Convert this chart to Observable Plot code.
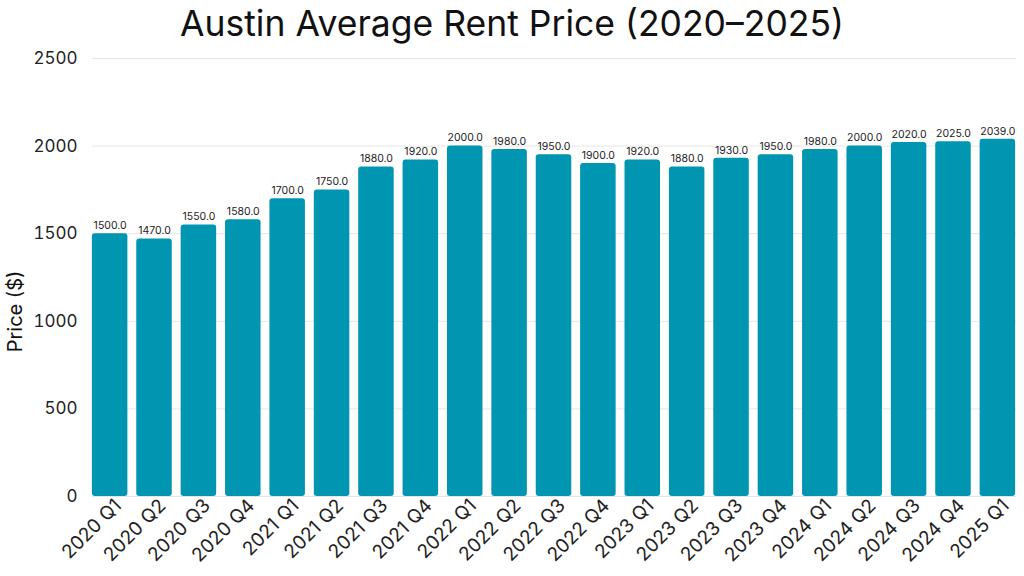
<!DOCTYPE html>
<html>
<head>
<meta charset="utf-8">
<script src="https://cdn.jsdelivr.net/npm/d3@7"></script>
<script src="https://cdn.jsdelivr.net/npm/@observablehq/plot@0.6"></script>
<style>
  html, body { margin: 0; padding: 0; background: #fff; }
  body { width: 1024px; height: 576px; overflow: hidden; font-family: Inter, "Open Sans", sans-serif; }
  #title { height: 45px; line-height: 48px; text-align: center; font-size: 35.5px; color: #111; font-weight: 400; }
</style>
</head>
<body>
<div id="title">Austin Average Rent Price (2020–2025)</div>
<div id="chart"></div>
<script>
const quarters = ["2020 Q1","2020 Q2","2020 Q3","2020 Q4","2021 Q1","2021 Q2","2021 Q3","2021 Q4","2022 Q1","2022 Q2","2022 Q3","2022 Q4","2023 Q1","2023 Q2","2023 Q3","2023 Q4","2024 Q1","2024 Q2","2024 Q3","2024 Q4","2025 Q1"];
const prices = [1500,1470,1550,1580,1700,1750,1880,1920,2000,1980,1950,1900,1920,1880,1930,1950,1980,2000,2020,2025,2039];
const yTicks = [0,500,1000,1500,2000,2500];

const data = quarters.map((q, i) => ({quarter: q, price: prices[i]}));

const chart = Plot.plot({
  width: 1024,
  height: 531,
  marginLeft: 83,
  marginRight: 0,
  marginTop: 13,
  marginBottom: 80,
  style: {fontFamily: "Inter, 'Open Sans', sans-serif", color: "#222", background: "#fff"},
  x: {domain: quarters, padding: 0.2, round: false, label: null},
  y: {domain: [0, 2500], ticks: yTicks, label: null},
  marks: [
    Plot.ruleY(yTicks, {stroke: "#e6e6e6", insetLeft: 9, insetRight: 8}),
    Plot.barY(data, {x: "quarter", y: "price", fill: "#0096B1", rx: 3}),
    Plot.text(data, {x: "quarter", y: "price", text: d => d.price.toFixed(1), dy: -8, fontSize: 10.5, fill: "#222"}),
    Plot.axisY({ticks: yTicks, tickFormat: d => String(d), tickSize: 0, tickPadding: 6, fontSize: 17, label: null}),
    Plot.axisX({tickRotate: -45, tickSize: 0, tickPadding: 6, fontSize: 19, dx: 8, label: null}),
    Plot.text(["Price ($)"], {frameAnchor: "left", textAnchor: "middle", dx: -68, dy: 34, rotate: -90, fontSize: 20, fill: "#111"})
  ]
});
document.getElementById("chart").appendChild(chart);
</script>
</body>
</html>
